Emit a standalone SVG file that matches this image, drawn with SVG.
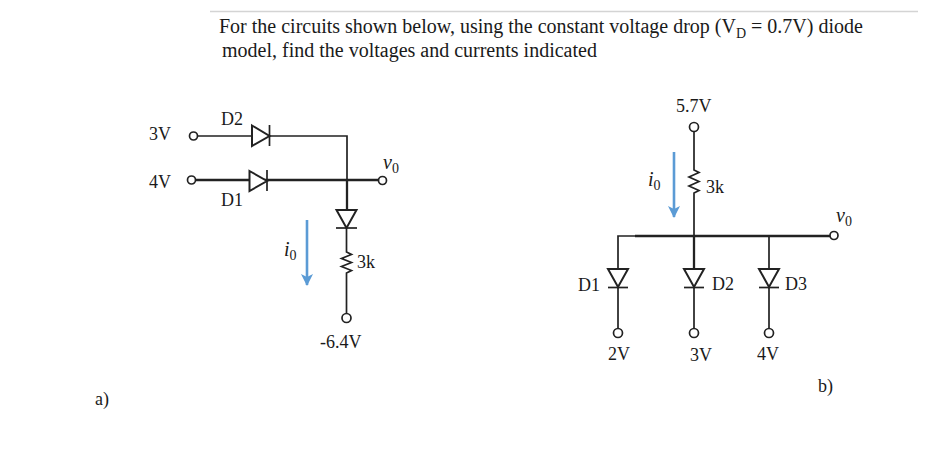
<svg xmlns="http://www.w3.org/2000/svg" width="926" height="460" viewBox="0 0 926 460">
<defs>
<style>
text{font-family:"Liberation Serif","Times New Roman",serif;fill:#1a1a1a}
.t{font-size:20px}
.l{font-size:18px}
.s{font-size:14px}
.v{font-size:20px;font-style:italic}
.w{fill:none;stroke:#222;stroke-width:1.700}
.h{fill:none;stroke:#222;stroke-width:2.300}
.c{fill:#fff;stroke:#222;stroke-width:1.700}
.d{fill:#fff;stroke:#222;stroke-width:2}
.a{stroke:#5b9bd5;stroke-width:2.600;fill:none}
</style>
<marker id="ah" markerUnits="userSpaceOnUse" markerWidth="12" markerHeight="12" refX="11" refY="6" orient="auto"><path d="M0 0L12 6L0 12L3 6Z" fill="#5b9bd5"/></marker>
</defs>
<rect width="926" height="460" fill="#fff"/>
<line x1="210" y1="11.500" x2="918" y2="11.500" stroke="#d4d4d4" stroke-width="1.500"/>
<g id="title">
<text class="t" x="219" y="33">For the circuits shown below, using the constant voltage drop (V<tspan class="s" dy="5">D</tspan><tspan dy="-5"> = 0.7V) diode</tspan></text>
<text class="t" x="222" y="57">model, find the voltages and currents indicated</text>
</g>
<g id="connectors">
<path class="w" d="M197 136H347V180"/>
<path class="h" d="M195 180H378"/>
<path class="h" d="M347 180V210"/>
<path class="w" d="M346.500 228V252l5 2.500-10 4 10 4-10 4 10 4-5 2.500V313"/>
<path class="w" d="M694 131.500V170l5 2.500-10 4.500 10 4.500-10 4.500 10 4.500-5 2.500V236"/>
<path class="h" d="M635 236H830"/>
<path class="w" d="M618 269V236H636"/>
<path class="h" d="M694 236V269"/>
<path class="w" d="M769 236V269"/>
<path class="w" d="M618 287V329M694 287V329M769 287V329"/>
<line class="a" x1="307" y1="220" x2="307" y2="285" marker-end="url(#ah)"/>
<line class="a" x1="674" y1="152" x2="674" y2="217" marker-end="url(#ah)"/>
</g>
<g id="a-3V"><circle class="c" cx="193.500" cy="136" r="4"/><text class="l" x="149" y="140">3V</text></g>
<g id="a-4V"><circle class="c" cx="191.500" cy="180" r="4"/><text class="l" x="149" y="188">4V</text></g>
<g id="a-D2"><path class="d" d="M252 125.500L269.500 136L252 146Z"/><path class="w" d="M269.500 125V146"/><text class="l" x="221" y="125">D2</text></g>
<g id="a-D1"><path class="d" d="M249.500 171L267 181L249.500 191Z"/><path class="w" d="M267 170V191"/><text class="l" x="221" y="206">D1</text></g>
<g id="a-vo"><circle class="c" cx="382.500" cy="180.500" r="4"/><text class="v" x="383" y="169">v<tspan class="s" dy="4" font-style="normal">0</tspan></text></g>
<g id="a-D3"><path class="d" d="M336.500 210H356.500L346.500 228Z"/><path class="w" d="M336 228H357"/></g>
<g id="a-R"><text class="l" x="357" y="268">3k</text></g>
<g id="a-io"><text class="v" x="284" y="256">i<tspan class="s" dy="4" font-style="normal">0</tspan></text></g>
<g id="a-neg"><circle class="c" cx="346.500" cy="318" r="4.500"/><text class="l" x="320" y="348">-6.4V</text></g>
<g id="a-label"><text class="l" x="95" y="405">a)</text></g>
<g id="b-5V"><circle class="c" cx="694" cy="127" r="4.500"/><text class="l" x="676" y="112">5.7V</text></g>
<g id="b-R"><text class="l" x="706" y="193">3k</text></g>
<g id="b-io"><text class="v" x="648" y="186">i<tspan class="s" dy="4" font-style="normal">0</tspan></text></g>
<g id="b-vo"><circle class="c" cx="834" cy="235.500" r="4"/><text class="v" x="836" y="222">v<tspan class="s" dy="4" font-style="normal">0</tspan></text></g>
<g id="b-D1"><path class="d" d="M608 269H628L618 287Z"/><path class="w" d="M608 287.500H628"/><circle class="c" cx="618" cy="333" r="4.500"/><text class="l" x="578" y="291">D1</text><text class="l" x="608" y="360">2V</text></g>
<g id="b-D2"><path class="d" d="M684 269H704L694 287Z"/><path class="w" d="M684 287.500H704"/><circle class="c" cx="694" cy="333" r="4.500"/><text class="l" x="712" y="290">D2</text><text class="l" x="690" y="361">3V</text></g>
<g id="b-D3"><path class="d" d="M759 269H779L769 287Z"/><path class="w" d="M759 287.500H779"/><circle class="c" cx="769" cy="333" r="4.500"/><text class="l" x="785" y="290">D3</text><text class="l" x="757" y="360">4V</text></g>
<g id="b-label"><text class="l" x="818" y="392">b)</text></g>
</svg>
